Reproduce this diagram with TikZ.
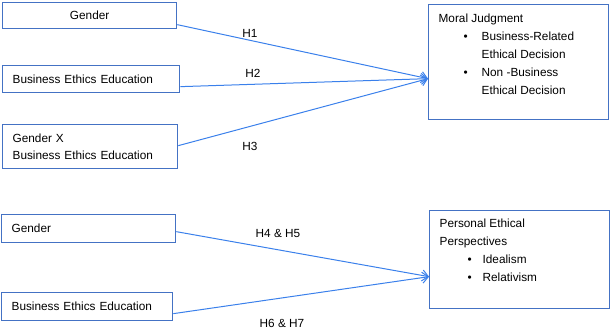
\documentclass[tikz,border=0pt]{standalone}
\usepackage{fontspec}
\setmainfont{Liberation Sans}
\usetikzlibrary{arrows.meta}
\usetikzlibrary{positioning}
\definecolor{boxblue}{RGB}{68,114,196}
\definecolor{linkblue}{RGB}{58,128,235}
\tikzset{
	varbox/.style={draw=boxblue, line width=1.3pt, anchor=north west, inner xsep=10pt, inner ysep=0pt, align=left},
	outbox/.style={draw=boxblue, line width=1.3pt, anchor=north west, inner sep=0pt},
	link/.style={draw=linkblue, line width=1pt, -{Straight Barb[length=6pt,width=11pt]}},
	hyp/.style={inner sep=0pt}
}
\begin{document}
\begin{tikzpicture}[x=1pt, y=-1pt, font=\fontsize{11.8}{17}\selectfont]
		\useasboundingbox (0,0) rectangle (610,330);
		% upper model
		\node[varbox, text width=154pt, minimum height=26pt, align=center] (gen1) at (2,2) {Gender};
		\node[varbox, text width=157pt, minimum height=27pt] (bee1) at (2,65) {Business Ethics Education};
		\node[varbox, text width=155pt, minimum height=44pt] (gxb) at (2,124) {Gender X\\Business Ethics Education};
		\node[outbox, minimum width=180pt, minimum height=115pt] (mj) at (428,4) {\parbox[c][96pt][t]{160pt}{\fontsize{11.8}{18}\selectfont
				Moral Judgment\\
				\makebox[43pt][l]{\hspace*{25pt}\textbullet}Business-Related\\
				\hspace*{43pt}Ethical Decision\\
				\makebox[43pt][l]{\hspace*{25pt}\textbullet}Non -Business\\
				\hspace*{43pt}Ethical Decision}};
		
		\draw[link] ([yshift=-9pt]gen1.east) -- ([yshift=-16.5pt]mj.west);
		\draw[link] ([yshift=-7.5pt]bee1.east) -- ([yshift=-16.5pt]mj.west);
		\draw[link] ([yshift=1pt]gxb.east) -- ([yshift=-16.5pt]mj.west);
		\node[hyp] (h1) at (250,33) {H1};
		\node[hyp] (h2) at (253,73) {H2};
		\node[hyp] (h3) at (250,146.5) {H3};
		
		% lower model
		\node[varbox, text width=154pt, minimum height=28pt] (gen2) at (1,214) {Gender};
		\node[varbox, text width=151pt, minimum height=28pt] (bee2) at (1,292) {Business Ethics Education};
		\node[outbox, minimum width=180pt, minimum height=98pt] (pep) at (429,210) {\parbox[c][82pt][t]{160pt}{\fontsize{11.8}{18}\selectfont
				Personal Ethical\\
				Perspectives\\
				\makebox[43pt][l]{\hspace*{28pt}\textbullet}Idealism\\
				\makebox[43pt][l]{\hspace*{28pt}\textbullet}Relativism}};
		
		\draw[link] ([yshift=-3pt]gen2.east) -- ([yshift=-17pt]pep.west);
		\draw[link] ([yshift=-7pt]bee2.east) -- ([yshift=-17pt]pep.west);
		\node[hyp] (h45) at (278,233) {H4 \& H5};
		\node[hyp] (h67) at (282,323) {H6 \& H7};
\end{tikzpicture}
\end{document}
